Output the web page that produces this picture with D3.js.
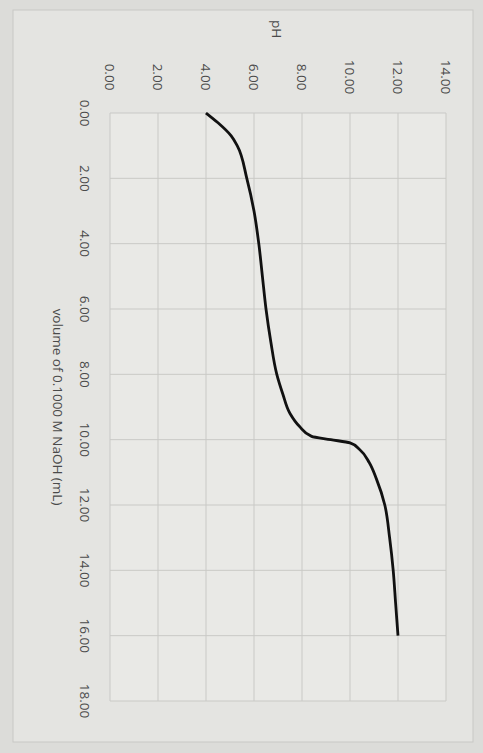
<!DOCTYPE html>
<html><head><meta charset="utf-8">
<script src="https://cdn.jsdelivr.net/npm/d3@7"></script>
<style>body{margin:0;background:#dcdcd9;}</style>
</head><body>
<svg id="c" width="483" height="753"></svg>
<script>
const volume = [0,0.3,0.7,1,2,3,4,5,6,7,8,8.6,9.2,9.6,9.9,10,10.1,10.3,10.7,11.2,12,13,14,15,16];
const pH     = [4.0,4.5,5.05,5.3,5.7,6.0,6.2,6.35,6.5,6.7,6.95,7.2,7.5,7.9,8.4,9.2,10.0,10.4,10.8,11.1,11.45,11.65,11.8,11.9,12.0];
const pHTicks = [0,2,4,6,8,10,12,14];
const volTicks = [0,2,4,6,8,10,12,14,16,18];

const svg = d3.select("#c");
svg.append("rect").attr("x",13).attr("y",10).attr("width",460).attr("height",732)
  .attr("fill","#e4e4e1").attr("stroke","#c8c8c5");
const x = d3.scaleLinear().domain([0,14]).range([110,446]);
const y = d3.scaleLinear().domain([0,18]).range([113,701]);
svg.append("rect").attr("x",x(0)).attr("y",y(0)).attr("width",x(14)-x(0)).attr("height",y(18)-y(0))
  .attr("fill","#e9e9e6");
const g = svg.append("g");
g.selectAll(".vg").data(pHTicks).join("line").attr("x1",d=>x(d)).attr("x2",d=>x(d))
  .attr("y1",y(0)).attr("y2",y(18)).attr("stroke","#c9c9c6").attr("stroke-width",1);
g.selectAll(".hg").data(volTicks).join("line").attr("y1",d=>y(d)).attr("y2",d=>y(d))
  .attr("x1",x(0)).attr("x2",x(14)).attr("stroke","#c9c9c6").attr("stroke-width",1);
const font = "'Open Sans', 'Liberation Sans', sans-serif";
const col = "#4a4a4a";
svg.selectAll(".pl").data(pHTicks).join("text")
  .attr("transform",d=>`translate(${x(d)},77) rotate(90)`).attr("dy","0.35em")
  .attr("text-anchor","middle").attr("font-family",font).attr("font-size",13.5).attr("fill",col)
  .text(d=>d.toFixed(2));
svg.selectAll(".vl").data(volTicks).join("text")
  .attr("transform",d=>`translate(85,${y(d)}) rotate(90)`).attr("dy","0.35em")
  .attr("text-anchor","middle").attr("font-family",font).attr("font-size",13.5).attr("fill",col)
  .text(d=>d.toFixed(2));
svg.append("text").attr("transform","translate(277,29) rotate(90)").attr("dy","0.35em")
  .attr("text-anchor","middle").attr("font-family",font).attr("font-size",13.5).attr("fill",col).text("pH");
svg.append("text").attr("transform",`translate(58,${(y(0)+y(18))/2}) rotate(90)`).attr("dy","0.35em")
  .attr("text-anchor","middle").attr("font-family",font).attr("font-size",13.5).attr("fill",col)
  .text("volume of 0.1000 M NaOH (mL)");
const pts = volume.map((v,i)=>[pH[i],v]);
svg.append("path").datum(pts).attr("fill","none").attr("stroke","#111").attr("stroke-width",2.8)
  .attr("d",d3.line().x(d=>x(d[0])).y(d=>y(d[1])).curve(d3.curveMonotoneY));
</script>
</body></html>
